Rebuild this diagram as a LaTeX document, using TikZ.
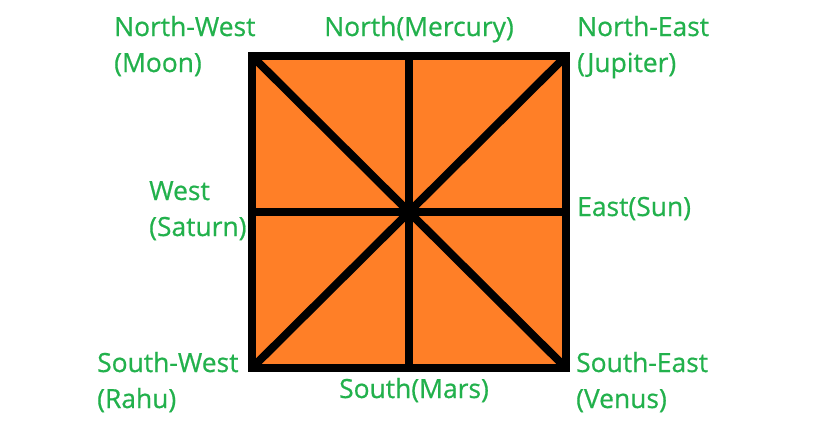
\documentclass[tikz,border=0pt]{standalone}
\usepackage{fontspec}
\setmainfont{Open Sans}[FakeBold=0.6]
\definecolor{lblgreen}{RGB}{34,177,76}
\definecolor{boxorange}{RGB}{255,127,39}
\begin{document}
\begin{tikzpicture}[x=1pt,y=-1pt,
  lbl/.style={text=lblgreen, inner sep=0pt, align=left, font=\fontsize{26.4}{36}\selectfont},
  edge/.style={line width=8pt, draw=black}]
\useasboundingbox[fill=white] (0,0) rectangle (840,440);
\coordinate (nw) at (252,56);
\coordinate (ne) at (566,56);
\coordinate (se) at (566,368);
\coordinate (sw) at (252,368);
\coordinate (n) at (409,56);
\coordinate (s) at (409,368);
\coordinate (w) at (252,212);
\coordinate (e) at (566,212);
\coordinate (c) at (409,212);
\fill[boxorange] (nw) rectangle (se);
\draw[edge] (n) -- (s);
\draw[edge] (w) -- (e);
\draw[edge] (nw) -- (se);
\draw[edge] (ne) -- (sw);
\draw[edge, miter limit=10] (nw) -- (ne) -- (se) -- (sw) -- cycle;
\node[lbl, anchor=base west] (lnw) at (114,72) {North-West\\(Moon)};
\node[lbl, anchor=base] (ln) at (419,36) {North(Mercury)};
\node[lbl, anchor=base west] (lne) at (577,72) {North-East\\(Jupiter)};
\node[lbl, anchor=base west] (lw) at (149,236) {West\\(Saturn)};
\node[lbl, anchor=base west] (le) at (577,216) {East(Sun)};
\node[lbl, anchor=base west] (lsw) at (97,408) {South-West\\(Rahu)};
\node[lbl, anchor=base] (ls) at (414,398) {South(Mars)};
\node[lbl, anchor=base west] (lse) at (576,408) {South-East\\(Venus)};
\end{tikzpicture}
\end{document}
